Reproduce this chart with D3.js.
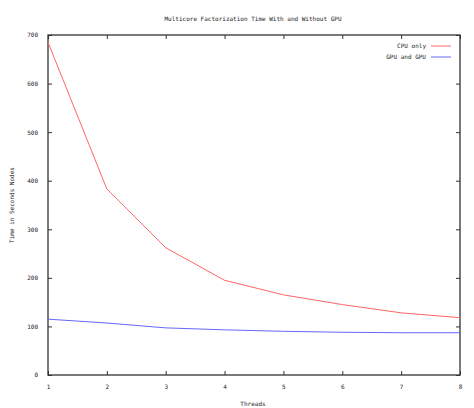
<!DOCTYPE html>
<html><head><meta charset="utf-8">
<script src="https://cdn.jsdelivr.net/npm/d3@7"></script>
<style>body{margin:0;background:#fff}text{font-family:"DejaVu Sans Mono",monospace;fill:#222}</style>
</head><body><svg id="c" width="474" height="408"></svg>
<script>
const threads = [1, 2, 3, 4, 5, 6, 7, 8];
const cpuOnly = [685, 383, 262, 195, 165, 145, 128, 118];
const gpuAndGpu = [115, 107, 97, 93, 90, 88, 87, 87];
const yTicks = [0, 100, 200, 300, 400, 500, 600, 700];

const svg = d3.select('#c');
const m = {l: 48, r: 14, t: 35, b: 33};
const W = 474, H = 408;
const x = d3.scaleLinear().domain([1, 8]).range([m.l, W - m.r]);
const y = d3.scaleLinear().domain([0, 700]).range([H - m.b, m.t]);

const fs = '6px';
// inward ticks, mirrored on all sides
svg.append('g').attr('transform', `translate(0,${H - m.b})`)
    .call(d3.axisBottom(x).tickValues(threads).tickSize(-4).tickPadding(10).tickFormat(d3.format('d')))
    .call(g => g.select('.domain').remove());
svg.append('g').attr('transform', `translate(0,${m.t})`)
    .call(d3.axisTop(x).tickValues(threads).tickSize(-4).tickFormat(''))
    .call(g => g.select('.domain').remove());
svg.append('g').attr('transform', `translate(${m.l},0)`)
    .call(d3.axisLeft(y).tickValues(yTicks).tickSize(-4).tickPadding(10))
    .call(g => g.select('.domain').remove());
svg.append('g').attr('transform', `translate(${W - m.r},0)`)
    .call(d3.axisRight(y).tickValues(yTicks).tickSize(-4).tickFormat(''))
    .call(g => g.select('.domain').remove());
svg.selectAll('.tick line').attr('stroke', '#333');
svg.selectAll('.tick text').style('font-size', fs).attr('fill', '#222');

svg.append('rect').attr('x', m.l).attr('y', m.t)
    .attr('width', W - m.l - m.r).attr('height', H - m.t - m.b)
    .attr('fill', 'none').attr('stroke', '#333').attr('stroke-width', 1.3);

const line = d3.line().x((d, i) => x(threads[i])).y(d => y(d));
svg.append('path').datum(cpuOnly).attr('d', line).attr('fill', 'none').attr('stroke', '#ff6666').attr('stroke-width', 1);
svg.append('path').datum(gpuAndGpu).attr('d', line).attr('fill', 'none').attr('stroke', '#6666ff').attr('stroke-width', 1);

const legend = [['CPU only', '#ff6666'], ['GPU and GPU', '#6666ff']];
legend.forEach(([t, c], i) => {
    const ly = 46 + i * 11;
    svg.append('text').attr('x', 426).attr('y', ly + 2).attr('text-anchor', 'end').style('font-size', fs).text(t);
    svg.append('line').attr('x1', 431).attr('x2', 451).attr('y1', ly).attr('y2', ly).attr('stroke', c);
});

svg.append('text').attr('x', 253).attr('y', 21).attr('text-anchor', 'middle').style('font-size', fs)
    .text('Multicore Factorization Time With and Without GPU');
svg.append('text').attr('x', 253).attr('y', 406).attr('text-anchor', 'middle').style('font-size', fs).text('Threads');
svg.append('text').attr('transform', `translate(14,${(m.t + H - m.b) / 2}) rotate(-90)`)
    .attr('text-anchor', 'middle').style('font-size', fs).text('Time in Seconds Nodes');
</script></body></html>
